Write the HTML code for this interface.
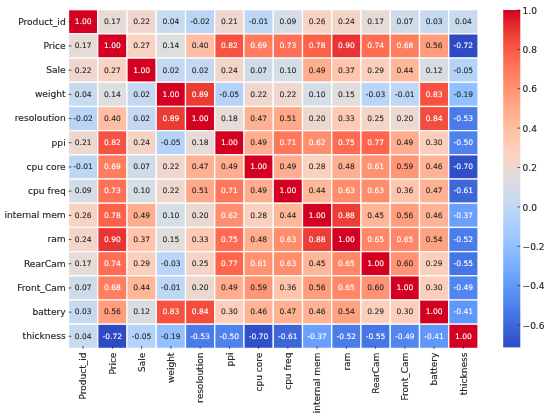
<!DOCTYPE html>
<html><head><meta charset="utf-8"><title>Correlation heatmap</title>
<style>html,body{margin:0;padding:0;background:#fff}svg{display:block}</style></head>
<body>
<svg width="550" height="418" viewBox="0 0 550 418" font-family="'DejaVu Sans','Liberation Sans',sans-serif">
<rect width="550" height="418" fill="#ffffff"/>
<defs><linearGradient id="cb" x1="0" y1="0" x2="0" y2="1"><stop offset="0.0000" stop-color="#d30022"/><stop offset="0.0312" stop-color="#de1e2a"/><stop offset="0.0625" stop-color="#e93834"/><stop offset="0.0938" stop-color="#f34d3e"/><stop offset="0.1250" stop-color="#fc5e49"/><stop offset="0.1562" stop-color="#ff6f54"/><stop offset="0.1875" stop-color="#ff7e60"/><stop offset="0.2188" stop-color="#ff8d6c"/><stop offset="0.2500" stop-color="#ff9a79"/><stop offset="0.2812" stop-color="#ffa686"/><stop offset="0.3125" stop-color="#ffb293"/><stop offset="0.3438" stop-color="#ffbc9f"/><stop offset="0.3750" stop-color="#ffc5ac"/><stop offset="0.4062" stop-color="#fecdb9"/><stop offset="0.4375" stop-color="#f6d4c5"/><stop offset="0.4688" stop-color="#ebd9d1"/><stop offset="0.5000" stop-color="#dedddd"/><stop offset="0.5312" stop-color="#d4dce6"/><stop offset="0.5625" stop-color="#c8daee"/><stop offset="0.5938" stop-color="#bcd6f5"/><stop offset="0.6250" stop-color="#b0d1fb"/><stop offset="0.6562" stop-color="#a3cbfe"/><stop offset="0.6875" stop-color="#96c3ff"/><stop offset="0.7188" stop-color="#8abbff"/><stop offset="0.7500" stop-color="#7cb0ff"/><stop offset="0.7812" stop-color="#6fa6fe"/><stop offset="0.8125" stop-color="#649afa"/><stop offset="0.8438" stop-color="#598ef4"/><stop offset="0.8750" stop-color="#4e82ed"/><stop offset="0.9062" stop-color="#4574e4"/><stop offset="0.9375" stop-color="#3c66da"/><stop offset="0.9688" stop-color="#3458cf"/><stop offset="1.0000" stop-color="#2e4bc5"/></linearGradient></defs>
<g stroke="#ffffff" stroke-opacity="0.93" stroke-width="1.30">
<rect x="68.50" y="9.70" width="29.25" height="24.19" fill="#d30022"/>
<rect x="97.75" y="9.70" width="29.25" height="24.19" fill="#e5dbd7"/>
<rect x="127.00" y="9.70" width="29.25" height="24.19" fill="#efd7cd"/>
<rect x="156.25" y="9.70" width="29.25" height="24.19" fill="#c8daee"/>
<rect x="185.50" y="9.70" width="29.25" height="24.19" fill="#bbd5f6"/>
<rect x="214.75" y="9.70" width="29.25" height="24.19" fill="#ecd8d0"/>
<rect x="244.00" y="9.70" width="29.25" height="24.19" fill="#bed7f4"/>
<rect x="273.25" y="9.70" width="29.25" height="24.19" fill="#d4dce6"/>
<rect x="302.50" y="9.70" width="29.25" height="24.19" fill="#f7d3c4"/>
<rect x="331.75" y="9.70" width="29.25" height="24.19" fill="#f3d5c8"/>
<rect x="361.00" y="9.70" width="29.25" height="24.19" fill="#e5dbd7"/>
<rect x="390.25" y="9.70" width="29.25" height="24.19" fill="#cfdbe9"/>
<rect x="419.50" y="9.70" width="29.25" height="24.19" fill="#c7d9ef"/>
<rect x="448.75" y="9.70" width="29.25" height="24.19" fill="#c8daee"/>
<rect x="68.50" y="33.89" width="29.25" height="24.19" fill="#e5dbd7"/>
<rect x="97.75" y="33.89" width="29.25" height="24.19" fill="#d30022"/>
<rect x="127.00" y="33.89" width="29.25" height="24.19" fill="#f8d2c2"/>
<rect x="156.25" y="33.89" width="29.25" height="24.19" fill="#dddede"/>
<rect x="185.50" y="33.89" width="29.25" height="24.19" fill="#ffbea3"/>
<rect x="214.75" y="33.89" width="29.25" height="24.19" fill="#f75342"/>
<rect x="244.00" y="33.89" width="29.25" height="24.19" fill="#ff7c5f"/>
<rect x="273.25" y="33.89" width="29.25" height="24.19" fill="#ff7156"/>
<rect x="302.50" y="33.89" width="29.25" height="24.19" fill="#fd614a"/>
<rect x="331.75" y="33.89" width="29.25" height="24.19" fill="#e83533"/>
<rect x="361.00" y="33.89" width="29.25" height="24.19" fill="#ff6d53"/>
<rect x="390.25" y="33.89" width="29.25" height="24.19" fill="#ff7e60"/>
<rect x="419.50" y="33.89" width="29.25" height="24.19" fill="#ff9d7c"/>
<rect x="448.75" y="33.89" width="29.25" height="24.19" fill="#2e4bc5"/>
<rect x="68.50" y="58.09" width="29.25" height="24.19" fill="#efd7cd"/>
<rect x="97.75" y="58.09" width="29.25" height="24.19" fill="#f8d2c2"/>
<rect x="127.00" y="58.09" width="29.25" height="24.19" fill="#d30022"/>
<rect x="156.25" y="58.09" width="29.25" height="24.19" fill="#c4d8f1"/>
<rect x="185.50" y="58.09" width="29.25" height="24.19" fill="#c4d8f1"/>
<rect x="214.75" y="58.09" width="29.25" height="24.19" fill="#f3d5c8"/>
<rect x="244.00" y="58.09" width="29.25" height="24.19" fill="#cfdbe9"/>
<rect x="273.25" y="58.09" width="29.25" height="24.19" fill="#d5dde5"/>
<rect x="302.50" y="58.09" width="29.25" height="24.19" fill="#ffad8e"/>
<rect x="331.75" y="58.09" width="29.25" height="24.19" fill="#ffc4ab"/>
<rect x="361.00" y="58.09" width="29.25" height="24.19" fill="#fbcfbe"/>
<rect x="390.25" y="58.09" width="29.25" height="24.19" fill="#ffb799"/>
<rect x="419.50" y="58.09" width="29.25" height="24.19" fill="#d9dde2"/>
<rect x="448.75" y="58.09" width="29.25" height="24.19" fill="#b5d3f9"/>
<rect x="68.50" y="82.28" width="29.25" height="24.19" fill="#c8daee"/>
<rect x="97.75" y="82.28" width="29.25" height="24.19" fill="#dddede"/>
<rect x="127.00" y="82.28" width="29.25" height="24.19" fill="#c4d8f1"/>
<rect x="156.25" y="82.28" width="29.25" height="24.19" fill="#d30022"/>
<rect x="185.50" y="82.28" width="29.25" height="24.19" fill="#eb3b35"/>
<rect x="214.75" y="82.28" width="29.25" height="24.19" fill="#b5d3f9"/>
<rect x="244.00" y="82.28" width="29.25" height="24.19" fill="#efd7cd"/>
<rect x="273.25" y="82.28" width="29.25" height="24.19" fill="#efd7cd"/>
<rect x="302.50" y="82.28" width="29.25" height="24.19" fill="#d5dde5"/>
<rect x="331.75" y="82.28" width="29.25" height="24.19" fill="#e0dddb"/>
<rect x="361.00" y="82.28" width="29.25" height="24.19" fill="#b9d5f7"/>
<rect x="390.25" y="82.28" width="29.25" height="24.19" fill="#bed7f4"/>
<rect x="419.50" y="82.28" width="29.25" height="24.19" fill="#f65141"/>
<rect x="448.75" y="82.28" width="29.25" height="24.19" fill="#93c1ff"/>
<rect x="68.50" y="106.47" width="29.25" height="24.19" fill="#bbd5f6"/>
<rect x="97.75" y="106.47" width="29.25" height="24.19" fill="#ffbea3"/>
<rect x="127.00" y="106.47" width="29.25" height="24.19" fill="#c4d8f1"/>
<rect x="156.25" y="106.47" width="29.25" height="24.19" fill="#eb3b35"/>
<rect x="185.50" y="106.47" width="29.25" height="24.19" fill="#d30022"/>
<rect x="214.75" y="106.47" width="29.25" height="24.19" fill="#e6dbd6"/>
<rect x="244.00" y="106.47" width="29.25" height="24.19" fill="#ffb293"/>
<rect x="273.25" y="106.47" width="29.25" height="24.19" fill="#ffa989"/>
<rect x="302.50" y="106.47" width="29.25" height="24.19" fill="#ebd9d1"/>
<rect x="331.75" y="106.47" width="29.25" height="24.19" fill="#ffcab4"/>
<rect x="361.00" y="106.47" width="29.25" height="24.19" fill="#f4d4c7"/>
<rect x="390.25" y="106.47" width="29.25" height="24.19" fill="#ebd9d1"/>
<rect x="419.50" y="106.47" width="29.25" height="24.19" fill="#f34d3e"/>
<rect x="448.75" y="106.47" width="29.25" height="24.19" fill="#4a7be9"/>
<rect x="68.50" y="130.66" width="29.25" height="24.19" fill="#ecd8d0"/>
<rect x="97.75" y="130.66" width="29.25" height="24.19" fill="#f75342"/>
<rect x="127.00" y="130.66" width="29.25" height="24.19" fill="#f3d5c8"/>
<rect x="156.25" y="130.66" width="29.25" height="24.19" fill="#b5d3f9"/>
<rect x="185.50" y="130.66" width="29.25" height="24.19" fill="#e6dbd6"/>
<rect x="214.75" y="130.66" width="29.25" height="24.19" fill="#d30022"/>
<rect x="244.00" y="130.66" width="29.25" height="24.19" fill="#ffad8e"/>
<rect x="273.25" y="130.66" width="29.25" height="24.19" fill="#ff775a"/>
<rect x="302.50" y="130.66" width="29.25" height="24.19" fill="#ff8e6e"/>
<rect x="331.75" y="130.66" width="29.25" height="24.19" fill="#ff6b52"/>
<rect x="361.00" y="130.66" width="29.25" height="24.19" fill="#ff654d"/>
<rect x="390.25" y="130.66" width="29.25" height="24.19" fill="#ffad8e"/>
<rect x="419.50" y="130.66" width="29.25" height="24.19" fill="#fdcebb"/>
<rect x="448.75" y="130.66" width="29.25" height="24.19" fill="#4e82ed"/>
<rect x="68.50" y="154.86" width="29.25" height="24.19" fill="#bed7f4"/>
<rect x="97.75" y="154.86" width="29.25" height="24.19" fill="#ff7c5f"/>
<rect x="127.00" y="154.86" width="29.25" height="24.19" fill="#cfdbe9"/>
<rect x="156.25" y="154.86" width="29.25" height="24.19" fill="#efd7cd"/>
<rect x="185.50" y="154.86" width="29.25" height="24.19" fill="#ffb293"/>
<rect x="214.75" y="154.86" width="29.25" height="24.19" fill="#ffad8e"/>
<rect x="244.00" y="154.86" width="29.25" height="24.19" fill="#d30022"/>
<rect x="273.25" y="154.86" width="29.25" height="24.19" fill="#ffad8e"/>
<rect x="302.50" y="154.86" width="29.25" height="24.19" fill="#fad0bf"/>
<rect x="331.75" y="154.86" width="29.25" height="24.19" fill="#ffaf8f"/>
<rect x="361.00" y="154.86" width="29.25" height="24.19" fill="#ff9271"/>
<rect x="390.25" y="154.86" width="29.25" height="24.19" fill="#ff9776"/>
<rect x="419.50" y="154.86" width="29.25" height="24.19" fill="#ffb394"/>
<rect x="448.75" y="154.86" width="29.25" height="24.19" fill="#304fc8"/>
<rect x="68.50" y="179.05" width="29.25" height="24.19" fill="#d4dce6"/>
<rect x="97.75" y="179.05" width="29.25" height="24.19" fill="#ff7156"/>
<rect x="127.00" y="179.05" width="29.25" height="24.19" fill="#d5dde5"/>
<rect x="156.25" y="179.05" width="29.25" height="24.19" fill="#efd7cd"/>
<rect x="185.50" y="179.05" width="29.25" height="24.19" fill="#ffa989"/>
<rect x="214.75" y="179.05" width="29.25" height="24.19" fill="#ff775a"/>
<rect x="244.00" y="179.05" width="29.25" height="24.19" fill="#ffad8e"/>
<rect x="273.25" y="179.05" width="29.25" height="24.19" fill="#d30022"/>
<rect x="302.50" y="179.05" width="29.25" height="24.19" fill="#ffb799"/>
<rect x="331.75" y="179.05" width="29.25" height="24.19" fill="#ff8d6c"/>
<rect x="361.00" y="179.05" width="29.25" height="24.19" fill="#ff8d6c"/>
<rect x="390.25" y="179.05" width="29.25" height="24.19" fill="#ffc5ac"/>
<rect x="419.50" y="179.05" width="29.25" height="24.19" fill="#ffb293"/>
<rect x="448.75" y="179.05" width="29.25" height="24.19" fill="#3c66da"/>
<rect x="68.50" y="203.24" width="29.25" height="24.19" fill="#f7d3c4"/>
<rect x="97.75" y="203.24" width="29.25" height="24.19" fill="#fd614a"/>
<rect x="127.00" y="203.24" width="29.25" height="24.19" fill="#ffad8e"/>
<rect x="156.25" y="203.24" width="29.25" height="24.19" fill="#d5dde5"/>
<rect x="185.50" y="203.24" width="29.25" height="24.19" fill="#ebd9d1"/>
<rect x="214.75" y="203.24" width="29.25" height="24.19" fill="#ff8e6e"/>
<rect x="244.00" y="203.24" width="29.25" height="24.19" fill="#fad0bf"/>
<rect x="273.25" y="203.24" width="29.25" height="24.19" fill="#ffb799"/>
<rect x="302.50" y="203.24" width="29.25" height="24.19" fill="#d30022"/>
<rect x="331.75" y="203.24" width="29.25" height="24.19" fill="#ec3e36"/>
<rect x="361.00" y="203.24" width="29.25" height="24.19" fill="#ffb597"/>
<rect x="390.25" y="203.24" width="29.25" height="24.19" fill="#ff9d7c"/>
<rect x="419.50" y="203.24" width="29.25" height="24.19" fill="#ffb394"/>
<rect x="448.75" y="203.24" width="29.25" height="24.19" fill="#6aa0fc"/>
<rect x="68.50" y="227.44" width="29.25" height="24.19" fill="#f3d5c8"/>
<rect x="97.75" y="227.44" width="29.25" height="24.19" fill="#e83533"/>
<rect x="127.00" y="227.44" width="29.25" height="24.19" fill="#ffc4ab"/>
<rect x="156.25" y="227.44" width="29.25" height="24.19" fill="#e0dddb"/>
<rect x="185.50" y="227.44" width="29.25" height="24.19" fill="#ffcab4"/>
<rect x="214.75" y="227.44" width="29.25" height="24.19" fill="#ff6b52"/>
<rect x="244.00" y="227.44" width="29.25" height="24.19" fill="#ffaf8f"/>
<rect x="273.25" y="227.44" width="29.25" height="24.19" fill="#ff8d6c"/>
<rect x="302.50" y="227.44" width="29.25" height="24.19" fill="#ec3e36"/>
<rect x="331.75" y="227.44" width="29.25" height="24.19" fill="#d30022"/>
<rect x="361.00" y="227.44" width="29.25" height="24.19" fill="#ff8768"/>
<rect x="390.25" y="227.44" width="29.25" height="24.19" fill="#ff8768"/>
<rect x="419.50" y="227.44" width="29.25" height="24.19" fill="#ffa281"/>
<rect x="448.75" y="227.44" width="29.25" height="24.19" fill="#4b7dea"/>
<rect x="68.50" y="251.63" width="29.25" height="24.19" fill="#e5dbd7"/>
<rect x="97.75" y="251.63" width="29.25" height="24.19" fill="#ff6d53"/>
<rect x="127.00" y="251.63" width="29.25" height="24.19" fill="#fbcfbe"/>
<rect x="156.25" y="251.63" width="29.25" height="24.19" fill="#b9d5f7"/>
<rect x="185.50" y="251.63" width="29.25" height="24.19" fill="#f4d4c7"/>
<rect x="214.75" y="251.63" width="29.25" height="24.19" fill="#ff654d"/>
<rect x="244.00" y="251.63" width="29.25" height="24.19" fill="#ff9271"/>
<rect x="273.25" y="251.63" width="29.25" height="24.19" fill="#ff8d6c"/>
<rect x="302.50" y="251.63" width="29.25" height="24.19" fill="#ffb597"/>
<rect x="331.75" y="251.63" width="29.25" height="24.19" fill="#ff8768"/>
<rect x="361.00" y="251.63" width="29.25" height="24.19" fill="#d30022"/>
<rect x="390.25" y="251.63" width="29.25" height="24.19" fill="#ff9373"/>
<rect x="419.50" y="251.63" width="29.25" height="24.19" fill="#fbcfbe"/>
<rect x="448.75" y="251.63" width="29.25" height="24.19" fill="#4676e6"/>
<rect x="68.50" y="275.82" width="29.25" height="24.19" fill="#cfdbe9"/>
<rect x="97.75" y="275.82" width="29.25" height="24.19" fill="#ff7e60"/>
<rect x="127.00" y="275.82" width="29.25" height="24.19" fill="#ffb799"/>
<rect x="156.25" y="275.82" width="29.25" height="24.19" fill="#bed7f4"/>
<rect x="185.50" y="275.82" width="29.25" height="24.19" fill="#ebd9d1"/>
<rect x="214.75" y="275.82" width="29.25" height="24.19" fill="#ffad8e"/>
<rect x="244.00" y="275.82" width="29.25" height="24.19" fill="#ff9776"/>
<rect x="273.25" y="275.82" width="29.25" height="24.19" fill="#ffc5ac"/>
<rect x="302.50" y="275.82" width="29.25" height="24.19" fill="#ff9d7c"/>
<rect x="331.75" y="275.82" width="29.25" height="24.19" fill="#ff8768"/>
<rect x="361.00" y="275.82" width="29.25" height="24.19" fill="#ff9373"/>
<rect x="390.25" y="275.82" width="29.25" height="24.19" fill="#d30022"/>
<rect x="419.50" y="275.82" width="29.25" height="24.19" fill="#fdcebb"/>
<rect x="448.75" y="275.82" width="29.25" height="24.19" fill="#5185ef"/>
<rect x="68.50" y="300.01" width="29.25" height="24.19" fill="#c7d9ef"/>
<rect x="97.75" y="300.01" width="29.25" height="24.19" fill="#ff9d7c"/>
<rect x="127.00" y="300.01" width="29.25" height="24.19" fill="#d9dde2"/>
<rect x="156.25" y="300.01" width="29.25" height="24.19" fill="#f65141"/>
<rect x="185.50" y="300.01" width="29.25" height="24.19" fill="#f34d3e"/>
<rect x="214.75" y="300.01" width="29.25" height="24.19" fill="#fdcebb"/>
<rect x="244.00" y="300.01" width="29.25" height="24.19" fill="#ffb394"/>
<rect x="273.25" y="300.01" width="29.25" height="24.19" fill="#ffb293"/>
<rect x="302.50" y="300.01" width="29.25" height="24.19" fill="#ffb394"/>
<rect x="331.75" y="300.01" width="29.25" height="24.19" fill="#ffa281"/>
<rect x="361.00" y="300.01" width="29.25" height="24.19" fill="#fbcfbe"/>
<rect x="390.25" y="300.01" width="29.25" height="24.19" fill="#fdcebb"/>
<rect x="419.50" y="300.01" width="29.25" height="24.19" fill="#d30022"/>
<rect x="448.75" y="300.01" width="29.25" height="24.19" fill="#6197f8"/>
<rect x="68.50" y="324.21" width="29.25" height="24.19" fill="#c8daee"/>
<rect x="97.75" y="324.21" width="29.25" height="24.19" fill="#2e4bc5"/>
<rect x="127.00" y="324.21" width="29.25" height="24.19" fill="#b5d3f9"/>
<rect x="156.25" y="324.21" width="29.25" height="24.19" fill="#93c1ff"/>
<rect x="185.50" y="324.21" width="29.25" height="24.19" fill="#4a7be9"/>
<rect x="214.75" y="324.21" width="29.25" height="24.19" fill="#4e82ed"/>
<rect x="244.00" y="324.21" width="29.25" height="24.19" fill="#304fc8"/>
<rect x="273.25" y="324.21" width="29.25" height="24.19" fill="#3c66da"/>
<rect x="302.50" y="324.21" width="29.25" height="24.19" fill="#6aa0fc"/>
<rect x="331.75" y="324.21" width="29.25" height="24.19" fill="#4b7dea"/>
<rect x="361.00" y="324.21" width="29.25" height="24.19" fill="#4676e6"/>
<rect x="390.25" y="324.21" width="29.25" height="24.19" fill="#5185ef"/>
<rect x="419.50" y="324.21" width="29.25" height="24.19" fill="#6197f8"/>
<rect x="448.75" y="324.21" width="29.25" height="24.19" fill="#d30022"/>
</g>
<g font-size="7.55" text-anchor="middle" stroke-width="0.1">
<text x="83.12" y="24.11" fill="#ffffff" stroke="#ffffff">1.00</text>
<text x="112.38" y="24.11" fill="#262626" stroke="#262626">0.17</text>
<text x="141.62" y="24.11" fill="#262626" stroke="#262626">0.22</text>
<text x="170.88" y="24.11" fill="#262626" stroke="#262626">0.04</text>
<text x="200.12" y="24.11" fill="#262626" stroke="#262626">-0.02</text>
<text x="229.38" y="24.11" fill="#262626" stroke="#262626">0.21</text>
<text x="258.62" y="24.11" fill="#262626" stroke="#262626">-0.01</text>
<text x="287.88" y="24.11" fill="#262626" stroke="#262626">0.09</text>
<text x="317.12" y="24.11" fill="#262626" stroke="#262626">0.26</text>
<text x="346.38" y="24.11" fill="#262626" stroke="#262626">0.24</text>
<text x="375.62" y="24.11" fill="#262626" stroke="#262626">0.17</text>
<text x="404.88" y="24.11" fill="#262626" stroke="#262626">0.07</text>
<text x="434.12" y="24.11" fill="#262626" stroke="#262626">0.03</text>
<text x="463.38" y="24.11" fill="#262626" stroke="#262626">0.04</text>
<text x="83.12" y="48.31" fill="#262626" stroke="#262626">0.17</text>
<text x="112.38" y="48.31" fill="#ffffff" stroke="#ffffff">1.00</text>
<text x="141.62" y="48.31" fill="#262626" stroke="#262626">0.27</text>
<text x="170.88" y="48.31" fill="#262626" stroke="#262626">0.14</text>
<text x="200.12" y="48.31" fill="#262626" stroke="#262626">0.40</text>
<text x="229.38" y="48.31" fill="#ffffff" stroke="#ffffff">0.82</text>
<text x="258.62" y="48.31" fill="#ffffff" stroke="#ffffff">0.69</text>
<text x="287.88" y="48.31" fill="#ffffff" stroke="#ffffff">0.73</text>
<text x="317.12" y="48.31" fill="#ffffff" stroke="#ffffff">0.78</text>
<text x="346.38" y="48.31" fill="#ffffff" stroke="#ffffff">0.90</text>
<text x="375.62" y="48.31" fill="#ffffff" stroke="#ffffff">0.74</text>
<text x="404.88" y="48.31" fill="#ffffff" stroke="#ffffff">0.68</text>
<text x="434.12" y="48.31" fill="#262626" stroke="#262626">0.56</text>
<text x="463.38" y="48.31" fill="#ffffff" stroke="#ffffff">-0.72</text>
<text x="83.12" y="72.50" fill="#262626" stroke="#262626">0.22</text>
<text x="112.38" y="72.50" fill="#262626" stroke="#262626">0.27</text>
<text x="141.62" y="72.50" fill="#ffffff" stroke="#ffffff">1.00</text>
<text x="170.88" y="72.50" fill="#262626" stroke="#262626">0.02</text>
<text x="200.12" y="72.50" fill="#262626" stroke="#262626">0.02</text>
<text x="229.38" y="72.50" fill="#262626" stroke="#262626">0.24</text>
<text x="258.62" y="72.50" fill="#262626" stroke="#262626">0.07</text>
<text x="287.88" y="72.50" fill="#262626" stroke="#262626">0.10</text>
<text x="317.12" y="72.50" fill="#262626" stroke="#262626">0.49</text>
<text x="346.38" y="72.50" fill="#262626" stroke="#262626">0.37</text>
<text x="375.62" y="72.50" fill="#262626" stroke="#262626">0.29</text>
<text x="404.88" y="72.50" fill="#262626" stroke="#262626">0.44</text>
<text x="434.12" y="72.50" fill="#262626" stroke="#262626">0.12</text>
<text x="463.38" y="72.50" fill="#262626" stroke="#262626">-0.05</text>
<text x="83.12" y="96.69" fill="#262626" stroke="#262626">0.04</text>
<text x="112.38" y="96.69" fill="#262626" stroke="#262626">0.14</text>
<text x="141.62" y="96.69" fill="#262626" stroke="#262626">0.02</text>
<text x="170.88" y="96.69" fill="#ffffff" stroke="#ffffff">1.00</text>
<text x="200.12" y="96.69" fill="#ffffff" stroke="#ffffff">0.89</text>
<text x="229.38" y="96.69" fill="#262626" stroke="#262626">-0.05</text>
<text x="258.62" y="96.69" fill="#262626" stroke="#262626">0.22</text>
<text x="287.88" y="96.69" fill="#262626" stroke="#262626">0.22</text>
<text x="317.12" y="96.69" fill="#262626" stroke="#262626">0.10</text>
<text x="346.38" y="96.69" fill="#262626" stroke="#262626">0.15</text>
<text x="375.62" y="96.69" fill="#262626" stroke="#262626">-0.03</text>
<text x="404.88" y="96.69" fill="#262626" stroke="#262626">-0.01</text>
<text x="434.12" y="96.69" fill="#ffffff" stroke="#ffffff">0.83</text>
<text x="463.38" y="96.69" fill="#262626" stroke="#262626">-0.19</text>
<text x="83.12" y="120.89" fill="#262626" stroke="#262626">-0.02</text>
<text x="112.38" y="120.89" fill="#262626" stroke="#262626">0.40</text>
<text x="141.62" y="120.89" fill="#262626" stroke="#262626">0.02</text>
<text x="170.88" y="120.89" fill="#ffffff" stroke="#ffffff">0.89</text>
<text x="200.12" y="120.89" fill="#ffffff" stroke="#ffffff">1.00</text>
<text x="229.38" y="120.89" fill="#262626" stroke="#262626">0.18</text>
<text x="258.62" y="120.89" fill="#262626" stroke="#262626">0.47</text>
<text x="287.88" y="120.89" fill="#262626" stroke="#262626">0.51</text>
<text x="317.12" y="120.89" fill="#262626" stroke="#262626">0.20</text>
<text x="346.38" y="120.89" fill="#262626" stroke="#262626">0.33</text>
<text x="375.62" y="120.89" fill="#262626" stroke="#262626">0.25</text>
<text x="404.88" y="120.89" fill="#262626" stroke="#262626">0.20</text>
<text x="434.12" y="120.89" fill="#ffffff" stroke="#ffffff">0.84</text>
<text x="463.38" y="120.89" fill="#ffffff" stroke="#ffffff">-0.53</text>
<text x="83.12" y="145.08" fill="#262626" stroke="#262626">0.21</text>
<text x="112.38" y="145.08" fill="#ffffff" stroke="#ffffff">0.82</text>
<text x="141.62" y="145.08" fill="#262626" stroke="#262626">0.24</text>
<text x="170.88" y="145.08" fill="#262626" stroke="#262626">-0.05</text>
<text x="200.12" y="145.08" fill="#262626" stroke="#262626">0.18</text>
<text x="229.38" y="145.08" fill="#ffffff" stroke="#ffffff">1.00</text>
<text x="258.62" y="145.08" fill="#262626" stroke="#262626">0.49</text>
<text x="287.88" y="145.08" fill="#ffffff" stroke="#ffffff">0.71</text>
<text x="317.12" y="145.08" fill="#ffffff" stroke="#ffffff">0.62</text>
<text x="346.38" y="145.08" fill="#ffffff" stroke="#ffffff">0.75</text>
<text x="375.62" y="145.08" fill="#ffffff" stroke="#ffffff">0.77</text>
<text x="404.88" y="145.08" fill="#262626" stroke="#262626">0.49</text>
<text x="434.12" y="145.08" fill="#262626" stroke="#262626">0.30</text>
<text x="463.38" y="145.08" fill="#ffffff" stroke="#ffffff">-0.50</text>
<text x="83.12" y="169.27" fill="#262626" stroke="#262626">-0.01</text>
<text x="112.38" y="169.27" fill="#ffffff" stroke="#ffffff">0.69</text>
<text x="141.62" y="169.27" fill="#262626" stroke="#262626">0.07</text>
<text x="170.88" y="169.27" fill="#262626" stroke="#262626">0.22</text>
<text x="200.12" y="169.27" fill="#262626" stroke="#262626">0.47</text>
<text x="229.38" y="169.27" fill="#262626" stroke="#262626">0.49</text>
<text x="258.62" y="169.27" fill="#ffffff" stroke="#ffffff">1.00</text>
<text x="287.88" y="169.27" fill="#262626" stroke="#262626">0.49</text>
<text x="317.12" y="169.27" fill="#262626" stroke="#262626">0.28</text>
<text x="346.38" y="169.27" fill="#262626" stroke="#262626">0.48</text>
<text x="375.62" y="169.27" fill="#ffffff" stroke="#ffffff">0.61</text>
<text x="404.88" y="169.27" fill="#262626" stroke="#262626">0.59</text>
<text x="434.12" y="169.27" fill="#262626" stroke="#262626">0.46</text>
<text x="463.38" y="169.27" fill="#ffffff" stroke="#ffffff">-0.70</text>
<text x="83.12" y="193.46" fill="#262626" stroke="#262626">0.09</text>
<text x="112.38" y="193.46" fill="#ffffff" stroke="#ffffff">0.73</text>
<text x="141.62" y="193.46" fill="#262626" stroke="#262626">0.10</text>
<text x="170.88" y="193.46" fill="#262626" stroke="#262626">0.22</text>
<text x="200.12" y="193.46" fill="#262626" stroke="#262626">0.51</text>
<text x="229.38" y="193.46" fill="#ffffff" stroke="#ffffff">0.71</text>
<text x="258.62" y="193.46" fill="#262626" stroke="#262626">0.49</text>
<text x="287.88" y="193.46" fill="#ffffff" stroke="#ffffff">1.00</text>
<text x="317.12" y="193.46" fill="#262626" stroke="#262626">0.44</text>
<text x="346.38" y="193.46" fill="#ffffff" stroke="#ffffff">0.63</text>
<text x="375.62" y="193.46" fill="#ffffff" stroke="#ffffff">0.63</text>
<text x="404.88" y="193.46" fill="#262626" stroke="#262626">0.36</text>
<text x="434.12" y="193.46" fill="#262626" stroke="#262626">0.47</text>
<text x="463.38" y="193.46" fill="#ffffff" stroke="#ffffff">-0.61</text>
<text x="83.12" y="217.66" fill="#262626" stroke="#262626">0.26</text>
<text x="112.38" y="217.66" fill="#ffffff" stroke="#ffffff">0.78</text>
<text x="141.62" y="217.66" fill="#262626" stroke="#262626">0.49</text>
<text x="170.88" y="217.66" fill="#262626" stroke="#262626">0.10</text>
<text x="200.12" y="217.66" fill="#262626" stroke="#262626">0.20</text>
<text x="229.38" y="217.66" fill="#ffffff" stroke="#ffffff">0.62</text>
<text x="258.62" y="217.66" fill="#262626" stroke="#262626">0.28</text>
<text x="287.88" y="217.66" fill="#262626" stroke="#262626">0.44</text>
<text x="317.12" y="217.66" fill="#ffffff" stroke="#ffffff">1.00</text>
<text x="346.38" y="217.66" fill="#ffffff" stroke="#ffffff">0.88</text>
<text x="375.62" y="217.66" fill="#262626" stroke="#262626">0.45</text>
<text x="404.88" y="217.66" fill="#262626" stroke="#262626">0.56</text>
<text x="434.12" y="217.66" fill="#262626" stroke="#262626">0.46</text>
<text x="463.38" y="217.66" fill="#ffffff" stroke="#ffffff">-0.37</text>
<text x="83.12" y="241.85" fill="#262626" stroke="#262626">0.24</text>
<text x="112.38" y="241.85" fill="#ffffff" stroke="#ffffff">0.90</text>
<text x="141.62" y="241.85" fill="#262626" stroke="#262626">0.37</text>
<text x="170.88" y="241.85" fill="#262626" stroke="#262626">0.15</text>
<text x="200.12" y="241.85" fill="#262626" stroke="#262626">0.33</text>
<text x="229.38" y="241.85" fill="#ffffff" stroke="#ffffff">0.75</text>
<text x="258.62" y="241.85" fill="#262626" stroke="#262626">0.48</text>
<text x="287.88" y="241.85" fill="#ffffff" stroke="#ffffff">0.63</text>
<text x="317.12" y="241.85" fill="#ffffff" stroke="#ffffff">0.88</text>
<text x="346.38" y="241.85" fill="#ffffff" stroke="#ffffff">1.00</text>
<text x="375.62" y="241.85" fill="#ffffff" stroke="#ffffff">0.65</text>
<text x="404.88" y="241.85" fill="#ffffff" stroke="#ffffff">0.65</text>
<text x="434.12" y="241.85" fill="#262626" stroke="#262626">0.54</text>
<text x="463.38" y="241.85" fill="#ffffff" stroke="#ffffff">-0.52</text>
<text x="83.12" y="266.04" fill="#262626" stroke="#262626">0.17</text>
<text x="112.38" y="266.04" fill="#ffffff" stroke="#ffffff">0.74</text>
<text x="141.62" y="266.04" fill="#262626" stroke="#262626">0.29</text>
<text x="170.88" y="266.04" fill="#262626" stroke="#262626">-0.03</text>
<text x="200.12" y="266.04" fill="#262626" stroke="#262626">0.25</text>
<text x="229.38" y="266.04" fill="#ffffff" stroke="#ffffff">0.77</text>
<text x="258.62" y="266.04" fill="#ffffff" stroke="#ffffff">0.61</text>
<text x="287.88" y="266.04" fill="#ffffff" stroke="#ffffff">0.63</text>
<text x="317.12" y="266.04" fill="#262626" stroke="#262626">0.45</text>
<text x="346.38" y="266.04" fill="#ffffff" stroke="#ffffff">0.65</text>
<text x="375.62" y="266.04" fill="#ffffff" stroke="#ffffff">1.00</text>
<text x="404.88" y="266.04" fill="#262626" stroke="#262626">0.60</text>
<text x="434.12" y="266.04" fill="#262626" stroke="#262626">0.29</text>
<text x="463.38" y="266.04" fill="#ffffff" stroke="#ffffff">-0.55</text>
<text x="83.12" y="290.24" fill="#262626" stroke="#262626">0.07</text>
<text x="112.38" y="290.24" fill="#ffffff" stroke="#ffffff">0.68</text>
<text x="141.62" y="290.24" fill="#262626" stroke="#262626">0.44</text>
<text x="170.88" y="290.24" fill="#262626" stroke="#262626">-0.01</text>
<text x="200.12" y="290.24" fill="#262626" stroke="#262626">0.20</text>
<text x="229.38" y="290.24" fill="#262626" stroke="#262626">0.49</text>
<text x="258.62" y="290.24" fill="#262626" stroke="#262626">0.59</text>
<text x="287.88" y="290.24" fill="#262626" stroke="#262626">0.36</text>
<text x="317.12" y="290.24" fill="#262626" stroke="#262626">0.56</text>
<text x="346.38" y="290.24" fill="#ffffff" stroke="#ffffff">0.65</text>
<text x="375.62" y="290.24" fill="#262626" stroke="#262626">0.60</text>
<text x="404.88" y="290.24" fill="#ffffff" stroke="#ffffff">1.00</text>
<text x="434.12" y="290.24" fill="#262626" stroke="#262626">0.30</text>
<text x="463.38" y="290.24" fill="#ffffff" stroke="#ffffff">-0.49</text>
<text x="83.12" y="314.43" fill="#262626" stroke="#262626">0.03</text>
<text x="112.38" y="314.43" fill="#262626" stroke="#262626">0.56</text>
<text x="141.62" y="314.43" fill="#262626" stroke="#262626">0.12</text>
<text x="170.88" y="314.43" fill="#ffffff" stroke="#ffffff">0.83</text>
<text x="200.12" y="314.43" fill="#ffffff" stroke="#ffffff">0.84</text>
<text x="229.38" y="314.43" fill="#262626" stroke="#262626">0.30</text>
<text x="258.62" y="314.43" fill="#262626" stroke="#262626">0.46</text>
<text x="287.88" y="314.43" fill="#262626" stroke="#262626">0.47</text>
<text x="317.12" y="314.43" fill="#262626" stroke="#262626">0.46</text>
<text x="346.38" y="314.43" fill="#262626" stroke="#262626">0.54</text>
<text x="375.62" y="314.43" fill="#262626" stroke="#262626">0.29</text>
<text x="404.88" y="314.43" fill="#262626" stroke="#262626">0.30</text>
<text x="434.12" y="314.43" fill="#ffffff" stroke="#ffffff">1.00</text>
<text x="463.38" y="314.43" fill="#ffffff" stroke="#ffffff">-0.41</text>
<text x="83.12" y="338.62" fill="#262626" stroke="#262626">0.04</text>
<text x="112.38" y="338.62" fill="#ffffff" stroke="#ffffff">-0.72</text>
<text x="141.62" y="338.62" fill="#262626" stroke="#262626">-0.05</text>
<text x="170.88" y="338.62" fill="#262626" stroke="#262626">-0.19</text>
<text x="200.12" y="338.62" fill="#ffffff" stroke="#ffffff">-0.53</text>
<text x="229.38" y="338.62" fill="#ffffff" stroke="#ffffff">-0.50</text>
<text x="258.62" y="338.62" fill="#ffffff" stroke="#ffffff">-0.70</text>
<text x="287.88" y="338.62" fill="#ffffff" stroke="#ffffff">-0.61</text>
<text x="317.12" y="338.62" fill="#ffffff" stroke="#ffffff">-0.37</text>
<text x="346.38" y="338.62" fill="#ffffff" stroke="#ffffff">-0.52</text>
<text x="375.62" y="338.62" fill="#ffffff" stroke="#ffffff">-0.55</text>
<text x="404.88" y="338.62" fill="#ffffff" stroke="#ffffff">-0.49</text>
<text x="434.12" y="338.62" fill="#ffffff" stroke="#ffffff">-0.41</text>
<text x="463.38" y="338.62" fill="#ffffff" stroke="#ffffff">1.00</text>
</g>
<g font-size="9.15" text-anchor="end" fill="#262626" stroke="#262626" stroke-width="0.15">
<text x="65.70" y="24.69">Product_id</text>
<text x="65.70" y="48.88">Price</text>
<text x="65.70" y="73.08">Sale</text>
<text x="65.70" y="97.27">weight</text>
<text x="65.70" y="121.46">resoloution</text>
<text x="65.70" y="145.65">ppi</text>
<text x="65.70" y="169.85">cpu core</text>
<text x="65.70" y="194.04">cpu freq</text>
<text x="65.70" y="218.23">internal mem</text>
<text x="65.70" y="242.43">ram</text>
<text x="65.70" y="266.62">RearCam</text>
<text x="65.70" y="290.81">Front_Cam</text>
<text x="65.70" y="315.00">battery</text>
<text x="65.70" y="339.20">thickness</text>
</g>
<g stroke="#262626" stroke-width="0.75">
<line x1="68.70" x2="71.40" y1="21.80" y2="21.80"/>
<line x1="68.70" x2="71.40" y1="45.99" y2="45.99"/>
<line x1="68.70" x2="71.40" y1="70.18" y2="70.18"/>
<line x1="68.70" x2="71.40" y1="94.38" y2="94.38"/>
<line x1="68.70" x2="71.40" y1="118.57" y2="118.57"/>
<line x1="68.70" x2="71.40" y1="142.76" y2="142.76"/>
<line x1="68.70" x2="71.40" y1="166.95" y2="166.95"/>
<line x1="68.70" x2="71.40" y1="191.15" y2="191.15"/>
<line x1="68.70" x2="71.40" y1="215.34" y2="215.34"/>
<line x1="68.70" x2="71.40" y1="239.53" y2="239.53"/>
<line x1="68.70" x2="71.40" y1="263.73" y2="263.73"/>
<line x1="68.70" x2="71.40" y1="287.92" y2="287.92"/>
<line x1="68.70" x2="71.40" y1="312.11" y2="312.11"/>
<line x1="68.70" x2="71.40" y1="336.30" y2="336.30"/>
<line x1="83.12" x2="83.12" y1="346.10" y2="348.80"/>
<line x1="112.38" x2="112.38" y1="346.10" y2="348.80"/>
<line x1="141.62" x2="141.62" y1="346.10" y2="348.80"/>
<line x1="170.88" x2="170.88" y1="346.10" y2="348.80"/>
<line x1="200.12" x2="200.12" y1="346.10" y2="348.80"/>
<line x1="229.38" x2="229.38" y1="346.10" y2="348.80"/>
<line x1="258.62" x2="258.62" y1="346.10" y2="348.80"/>
<line x1="287.88" x2="287.88" y1="346.10" y2="348.80"/>
<line x1="317.12" x2="317.12" y1="346.10" y2="348.80"/>
<line x1="346.38" x2="346.38" y1="346.10" y2="348.80"/>
<line x1="375.62" x2="375.62" y1="346.10" y2="348.80"/>
<line x1="404.88" x2="404.88" y1="346.10" y2="348.80"/>
<line x1="434.12" x2="434.12" y1="346.10" y2="348.80"/>
<line x1="463.38" x2="463.38" y1="346.10" y2="348.80"/>
</g>
<g font-size="9.03" text-anchor="end" fill="#262626" stroke="#262626" stroke-width="0.15">
<text transform="translate(86.48,352.60) rotate(-90)">Product_id</text>
<text transform="translate(115.73,352.60) rotate(-90)">Price</text>
<text transform="translate(144.98,352.60) rotate(-90)">Sale</text>
<text transform="translate(174.23,352.60) rotate(-90)">weight</text>
<text transform="translate(203.48,352.60) rotate(-90)">resoloution</text>
<text transform="translate(232.73,352.60) rotate(-90)">ppi</text>
<text transform="translate(261.98,352.60) rotate(-90)">cpu core</text>
<text transform="translate(291.23,352.60) rotate(-90)">cpu freq</text>
<text transform="translate(320.48,352.60) rotate(-90)">internal mem</text>
<text transform="translate(349.73,352.60) rotate(-90)">ram</text>
<text transform="translate(378.98,352.60) rotate(-90)">RearCam</text>
<text transform="translate(408.23,352.60) rotate(-90)">Front_Cam</text>
<text transform="translate(437.48,352.60) rotate(-90)">battery</text>
<text transform="translate(466.73,352.60) rotate(-90)">thickness</text>
</g>
<rect x="503.2" y="10.0" width="17.10" height="337.40" fill="url(#cb)"/>
<g font-size="9.0" fill="#262626" stroke="#262626" stroke-width="0.15">
<line x1="517.50" x2="520.20" y1="10.00" y2="10.00" stroke="#262626" stroke-width="0.75"/>
<text x="522.60" y="13.64">1.0</text>
<line x1="517.50" x2="520.20" y1="49.38" y2="49.38" stroke="#262626" stroke-width="0.75"/>
<text x="522.60" y="53.02">0.8</text>
<line x1="517.50" x2="520.20" y1="88.76" y2="88.76" stroke="#262626" stroke-width="0.75"/>
<text x="522.60" y="92.40">0.6</text>
<line x1="517.50" x2="520.20" y1="128.14" y2="128.14" stroke="#262626" stroke-width="0.75"/>
<text x="522.60" y="131.78">0.4</text>
<line x1="517.50" x2="520.20" y1="167.52" y2="167.52" stroke="#262626" stroke-width="0.75"/>
<text x="522.60" y="171.16">0.2</text>
<line x1="517.50" x2="520.20" y1="206.90" y2="206.90" stroke="#262626" stroke-width="0.75"/>
<text x="522.60" y="210.54">0.0</text>
<line x1="517.50" x2="520.20" y1="246.27" y2="246.27" stroke="#262626" stroke-width="0.75"/>
<text x="522.60" y="249.91">−0.2</text>
<line x1="517.50" x2="520.20" y1="285.65" y2="285.65" stroke="#262626" stroke-width="0.75"/>
<text x="522.60" y="289.29">−0.4</text>
<line x1="517.50" x2="520.20" y1="325.03" y2="325.03" stroke="#262626" stroke-width="0.75"/>
<text x="522.60" y="328.67">−0.6</text>
</g>
</svg>
</body></html>
